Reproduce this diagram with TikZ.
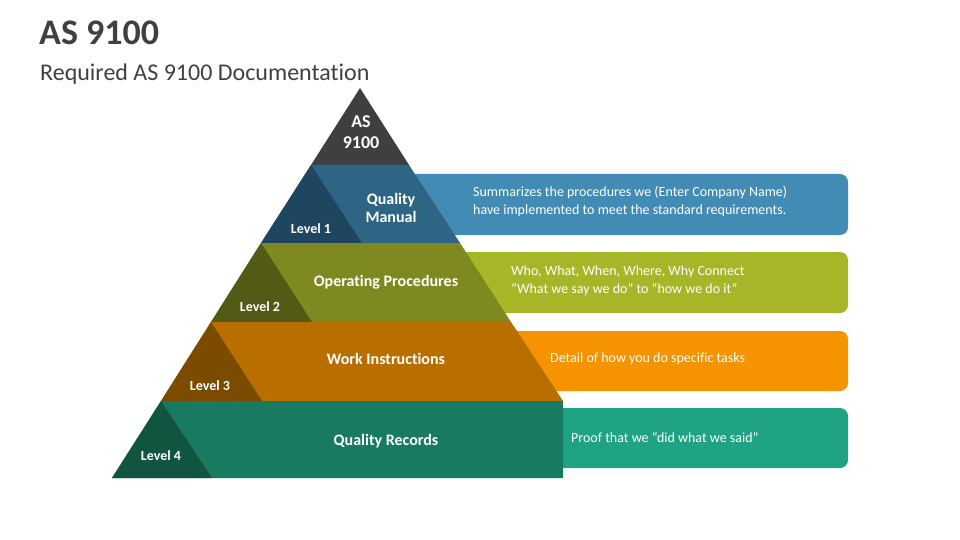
\documentclass[tikz,border=0pt]{standalone}
\usepackage{fontspec}
\setmainfont[Ligatures={NoCommon}]{Carlito}
\usepackage{xcolor}
\usepackage{tikz}
\usetikzlibrary{calc}

\definecolor{titlegray}{HTML}{404040}
\definecolor{topgray}{HTML}{3F3F3F}
\definecolor{bandone}{HTML}{2E6585}
\definecolor{darkone}{HTML}{1F4660}
\definecolor{boxone}{HTML}{428BB4}
\definecolor{bandtwo}{HTML}{7E8A1F}
\definecolor{darktwo}{HTML}{525A16}
\definecolor{boxtwo}{HTML}{A7B626}
\definecolor{bandthree}{HTML}{B96F00}
\definecolor{darkthree}{HTML}{7B4B00}
\definecolor{boxthree}{HTML}{F59300}
\definecolor{bandfour}{HTML}{177A61}
\definecolor{darkfour}{HTML}{11543F}
\definecolor{boxfour}{HTML}{1FA384}

\begin{document}
\begin{tikzpicture}[x=1pt,y=-1pt,
    txtbox/.style={rounded corners=8pt},
    bandlabel/.style={text=white, font=\bfseries\fontsize{16}{18}\selectfont, align=center, inner sep=0pt},
    levellabel/.style={text=white, font=\bfseries\fontsize{14}{16}\selectfont, inner sep=0pt},
    boxtext/.style={text=white, font=\fontsize{14}{18}\selectfont, align=left, anchor=west, inner sep=0pt}
    ]
    \useasboundingbox (0,0) rectangle (960,540);

    % title
    \node[anchor=base west, inner sep=0pt, text=titlegray, font=\bfseries\fontsize{36}{40}\selectfont] (title) at (39,45) {AS 9100};
    \node[anchor=base west, inner sep=0pt, text=titlegray, font=\fontsize{24}{28}\selectfont] (subtitle) at (40,81) {Required AS 9100 Documentation};

    % text boxes behind the pyramid
    \fill[boxone, txtbox] (380,174) rectangle (848,235);
    \fill[boxtwo, txtbox] (430,252) rectangle (848,313);
    \fill[boxthree, txtbox] (480,331) rectangle (848,391);
    \fill[boxfour, txtbox] (530,408) rectangle (848,468);

    % pyramid
    \fill[topgray] (360,88) -- (311,165) -- (409,165) -- cycle;
    \fill[bandone] (311,165) -- (409,165) -- (460,243) -- (261,243) -- cycle;
    \fill[darkone] (311,165) -- (362,243) -- (261,243) -- cycle;
    \fill[bandtwo] (261,243) -- (460,243) -- (511,322) -- (211,322) -- cycle;
    \fill[darktwo] (261,243) -- (312,322) -- (211,322) -- cycle;
    \fill[bandthree] (211,322) -- (511,322) -- (563,401) -- (161,401) -- cycle;
    \fill[darkthree] (211,322) -- (262,401) -- (161,401) -- cycle;
    \fill[bandfour] (161,401) -- (563,401) -- (563,478) -- (112,478) -- cycle;
    \fill[darkfour] (161,401) -- (212,478) -- (112,478) -- cycle;

    % pyramid labels
    \node[bandlabel, font=\bfseries\fontsize{18}{21}\selectfont] (apex) at (361,132) {AS\\9100};
    \node[bandlabel] (manual) at (391,208) {Quality\\Manual};
    \node[bandlabel] (procedures) at (386,282) {Operating Procedures};
    \node[bandlabel] (instructions) at (386,359) {Work Instructions};
    \node[bandlabel] (records) at (386,441) {Quality Records};
    \node[levellabel] (lvl1) at (311,229) {Level 1};
    \node[levellabel] (lvl2) at (260,307) {Level 2};
    \node[levellabel] (lvl3) at (210,386) {Level 3};
    \node[levellabel] (lvl4) at (161,456) {Level 4};

    % descriptions
    \node[boxtext] (desc1) at (473,202) {Summarizes the procedures we (Enter Company Name)\\have implemented to meet the standard requirements.};
    \node[boxtext] (desc2) at (511,281) {Who, What, When, Where, Why Connect\\“What we say we do” to “how we do it”};
    \node[boxtext] (desc3) at (550,359) {Detail of how you do specific tasks};
    \node[boxtext] (desc4) at (571,437) {Proof that we “did what we said”};
\end{tikzpicture}
\end{document}
